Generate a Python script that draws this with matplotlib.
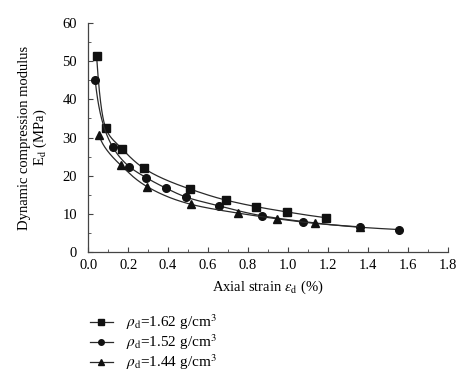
import numpy as np
import matplotlib
matplotlib.use("Agg")
import matplotlib.pyplot as plt

# values
strain_162 = [0.042, 0.087, 0.17, 0.277, 0.51, 0.69, 0.84, 0.995, 1.19]
modulus_162 = [51.4, 32.6, 27.0, 22.0, 16.5, 13.6, 11.9, 10.5, 9.0]

strain_152 = [0.035, 0.122, 0.205, 0.29, 0.387, 0.49, 0.655, 0.87, 1.075, 1.36, 1.553]
modulus_152 = [45.1, 27.6, 22.4, 19.5, 16.8, 14.4, 12.1, 9.5, 8.0, 6.5, 5.9]

strain_144 = [0.054, 0.164, 0.296, 0.515, 0.75, 0.947, 1.137, 1.36]
modulus_144 = [30.6, 22.7, 17.1, 12.5, 10.2, 8.7, 7.5, 6.6]

labels = [r"$\rho_{\rm d}$=1.62 g/cm$^3$",
          r"$\rho_{\rm d}$=1.52 g/cm$^3$",
          r"$\rho_{\rm d}$=1.44 g/cm$^3$"]

plt.rcParams["font.family"] = ["Liberation Serif", "DejaVu Serif"]
plt.rcParams["mathtext.fontset"] = "stix"


def pchip(x, y, xs):
    # monotone cubic (Fritsch-Carlson) interpolation
    x, y = np.asarray(x, float), np.asarray(y, float)
    h = np.diff(x)
    d = np.diff(y) / h
    m = np.zeros_like(y)
    for k in range(1, len(x) - 1):
        if d[k - 1] * d[k] > 0:
            w1 = 2 * h[k] + h[k - 1]
            w2 = h[k] + 2 * h[k - 1]
            m[k] = (w1 + w2) / (w1 / d[k - 1] + w2 / d[k])
    m[0], m[-1] = d[0], d[-1]
    idx = np.clip(np.searchsorted(x, xs) - 1, 0, len(x) - 2)
    t = (xs - x[idx]) / h[idx]
    h00 = 2 * t**3 - 3 * t**2 + 1
    h10 = t**3 - 2 * t**2 + t
    h01 = -2 * t**3 + 3 * t**2
    h11 = t**3 - t**2
    return (h00 * y[idx] + h10 * h[idx] * m[idx]
            + h01 * y[idx + 1] + h11 * h[idx] * m[idx + 1])


def smooth_curve(x, y):
    # smooth curve through the points, built in log-log space
    lx, ly = np.log(x), np.log(y)
    lxs = np.linspace(lx[0], lx[-1], 300)
    return np.exp(lxs), np.exp(pchip(lx, ly, lxs))


fig = plt.figure(figsize=(4.74, 3.89), dpi=100)
ax = fig.add_axes([0.186, 0.352, 0.759, 0.589])

series = [(strain_162, modulus_162, "s"),
          (strain_152, modulus_152, "o"),
          (strain_144, modulus_144, "^")]
handles = []
for (x, y, m), lab in zip(series, labels):
    xs, ys = smooth_curve(x, y)
    ax.plot(xs, ys, color="#2a2a2a", linewidth=0.9)
    ax.plot(x, y, linestyle="none", marker=m, color="#111111", markersize=5.5)
    h, = ax.plot([], [], color="#2a2a2a", linewidth=0.9, marker=m,
                 markersize=4.0, markerfacecolor="#111111", markeredgecolor="#111111")
    handles.append(h)

ax.set_xlim(0, 1.8)
ax.set_ylim(0, 60)
ax.set_xticks(np.arange(0, 1.81, 0.2))
ax.set_xticklabels([f"{v:.1f}" for v in np.arange(0, 1.81, 0.2)])
ax.set_xticks(np.arange(0.1, 1.8, 0.2), minor=True)
ax.set_yticks(range(0, 61, 10))
ax.set_yticks(range(5, 60, 10), minor=True)
ax.tick_params(which="both", direction="in", color="#444444", labelsize=10.5)
ax.tick_params(which="major", length=3.5)
ax.tick_params(which="minor", length=2.5)
ax.tick_params(axis="y", which="both", pad=8)
ax.tick_params(axis="x", which="both", pad=5)
ax.spines["top"].set_visible(False)
ax.spines["right"].set_visible(False)
for s in ["left", "bottom"]:
    ax.spines[s].set_color("#444444")
    ax.spines[s].set_linewidth(0.9)

ax.set_xlabel(r"Axial strain $\varepsilon_{\rm d}$ (%)", fontsize=10.5, labelpad=5)
ax.set_ylabel("Dynamic compression modulus\n" + r"E$_{\rm d}$ (MPa)", fontsize=10.5,
              labelpad=10, linespacing=1.05)

fig.legend(handles, labels, loc="upper left", bbox_to_anchor=(0.173, 0.216),
           frameon=False, fontsize=11, handlelength=1.5, handletextpad=0.9,
           labelspacing=0.02, borderpad=0)

fig.savefig("out.png", dpi=100)
